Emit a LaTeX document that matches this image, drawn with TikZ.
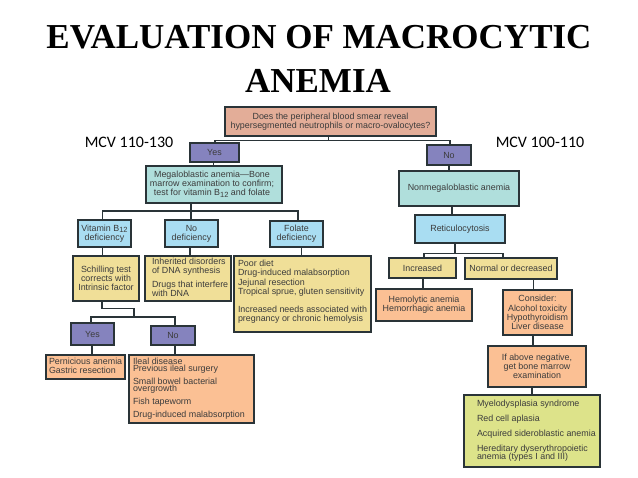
\documentclass[tikz,border=0pt]{standalone}
\usepackage{fontspec}
\setmainfont{Liberation Sans}
\newfontfamily\titlefont{Liberation Serif}
\newfontfamily\notefont{Carlito}
\definecolor{cline}{HTML}{2A3438}
\definecolor{ctext}{HTML}{3C3C3C}
\definecolor{csalmon}{HTML}{E3AD98}
\definecolor{cpurple}{HTML}{8583BE}
\definecolor{cteal}{HTML}{B0DFDC}
\definecolor{cblue}{HTML}{A9DDF2}
\definecolor{cyellow}{HTML}{F0DF98}
\definecolor{corange}{HTML}{FBC094}
\definecolor{cgreen}{HTML}{DDE38A}
\newcommand{\subnum}[1]{\raisebox{-1.8pt}{\fontsize{7.5}{8}\selectfont #1}}
\newcommand{\nbx}[7][]{%
  \pgfmathsetmacro\bw{#5-#3}\pgfmathsetmacro\bh{#6-#4}%
  \pgfmathsetmacro\cx{(#3+#5)/2}\pgfmathsetmacro\cy{(#4+#6)/2}%
  \node[boxbase,minimum width=\bw pt,minimum height=\bh pt,#1] (#2) at (\cx,\cy) {#7};}
\newcommand{\lbx}[8][]{%
  \pgfmathsetmacro\bw{#5-#3}\pgfmathsetmacro\bh{#6-#4}%
  \pgfmathsetmacro\cx{(#3+#5)/2}\pgfmathsetmacro\cy{(#4+#6)/2}%
  \pgfmathsetmacro\tw{\bw-2*#7}%
  \node[boxbase,minimum width=\bw pt,minimum height=\bh pt,#1] (#2) at (\cx,\cy)
    {\makebox[\tw pt][l]{\begin{tabular}{@{}l@{}}#8\end{tabular}}};}
\tikzset{
  boxbase/.style={draw=cline,line width=1.5pt,inner sep=0pt,align=center,text=ctext,
    font=\fontsize{8.9}{9.2}\selectfont},
  salmon/.style={fill=csalmon}, purple/.style={fill=cpurple},
  teal/.style={fill=cteal}, blue/.style={fill=cblue},
  yellow/.style={fill=cyellow}, orange/.style={fill=corange}, green/.style={fill=cgreen},
  conn/.style={draw=cline,line width=1.5pt},
  titletext/.style={font=\titlefont\bfseries\fontsize{35}{40}\selectfont,text=black,inner sep=0pt},
  note/.style={font=\notefont\fontsize{16}{18}\selectfont,text=black,inner sep=0pt}
}
\begin{document}
\begin{tikzpicture}[x=1pt,y=-1pt]
\useasboundingbox[fill=white] (0,0) rectangle (638,478);
\node[titletext] (t1) at (319,37) {EVALUATION OF MACROCYTIC};
\node[titletext] (t2) at (318,81) {ANEMIA};
\node[note] (n1) at (129,142) {MCV 110-130};
\node[note] (n2) at (540,142) {MCV 100-110};
% left branch
\nbx[salmon]{top}{225}{107}{436}{136}{Does the peripheral blood smear reveal\\hypersegmented neutrophils or macro-ovalocytes?}
\nbx[purple]{yesa}{190}{143}{239}{162}{Yes}
\lbx[teal]{mega}{146}{166}{282}{203}{3}{\makebox[126pt][c]{Megaloblastic anemia---Bone}\\\makebox[126pt][c]{marrow examination to confirm;}\\\makebox[126pt][c]{test for vitamin B\subnum{12} and folate}}
\nbx[blue]{vit}{78}{220}{131}{247}{Vitamin B\subnum{12}\\deficiency}
\nbx[blue]{nodef}{165}{220}{218}{247}{No\\deficiency}
\nbx[blue]{fol}{270}{221}{323}{247}{Folate\\deficiency}
\nbx[yellow]{schil}{73}{256}{139}{301}{Schilling test\\corrects with\\Intrinsic factor}
\lbx[yellow]{inh}{145}{256}{231}{301}{7}{Inherited disorders\\of DNA synthesis\\[4.6pt]Drugs that interfere\\with DNA}
\lbx[yellow]{poor}{234}{256}{371}{332}{4}{Poor diet\\Drug-induced malabsorption\\Jejunal resection\\Tropical sprue, gluten sensitivity\\\mbox{}\\Increased needs associated with\\pregnancy or chronic hemolysis\\[-6.2pt]\mbox{}}
\nbx[purple]{yesb}{71}{323}{114}{345}{Yes}
\nbx[purple]{nob}{151}{326}{195}{345}{No}
\lbx[orange]{pern}{46}{355}{125}{379}{3}{Pernicious anemia\\Gastric resection}
\lbx[orange]{ileal}{129}{355}{254}{423}{4}{Ileal disease\\[-2.2pt]Previous ileal surgery\\[3.8pt]Small bowel bacterial\\[-2.2pt]overgrowth\\[3.8pt]Fish tapeworm\\[3.8pt]Drug-induced malabsorption}
% right branch
\nbx[purple]{noa}{427}{145}{471}{165}{No}
\nbx[teal]{nonm}{399}{171}{519}{206}{Nonmegaloblastic anemia}
\nbx[blue]{ret}{415}{215}{505}{243}{Reticulocytosis}
\nbx[yellow]{inc}{389}{258}{456}{278}{Increased}
\nbx[yellow]{norm}{465}{258}{557}{279}{Normal or decreased}
\nbx[orange]{hem}{376}{289}{472}{321}{Hemolytic anemia\\Hemorrhagic anemia}
\nbx[orange]{cons}{503}{290}{572}{335}{Consider:\\Alcohol toxicity\\Hypothyroidism\\Liver disease}
\nbx[orange]{ifab}{488}{346}{586}{387}{If above negative,\\get bone marrow\\examination}
\lbx[green]{mye}{464}{395}{600}{467}{13}{Myelodysplasia syndrome\\[5.8pt]Red cell aplasia\\[5.8pt]Acquired sideroblastic anemia\\[5.8pt]Hereditary dyserythropoietic\\[-1.2pt]anemia (types I and III)}
% connectors
\coordinate (busa) at (0,140.5);
\draw[conn] ([xshift=-2pt]top.south) -- ([xshift=-2pt]top.south |- busa);
\draw[conn] ([xshift=0.5pt]yesa.north) -- ([xshift=0.5pt]yesa.north |- busa) -- ([xshift=1pt]noa.north |- busa) -- ([xshift=1pt]noa.north);
\draw[conn] ([xshift=-1pt]yesa.south) -- ([xshift=-1pt]yesa.south |- mega.north);
\coordinate (busb) at (0,211);
\draw[conn] ([xshift=-23pt]mega.south) -- ([xshift=-23pt]mega.south |- busb);
\draw[conn] ([xshift=-2pt]vit.north) -- ([xshift=-2pt]vit.north |- busb) -- ([xshift=1.5pt]fol.north |- busb) -- ([xshift=1.5pt]fol.north);
\draw[conn] ([xshift=-0.5pt]nodef.north) -- ([xshift=-0.5pt]nodef.north |- busb);
\draw[conn] ([xshift=-2pt]vit.south) -- ([xshift=-2pt]vit.south |- schil.north);
\draw[conn] ([xshift=-1.5pt]nodef.south) -- ([xshift=-1.5pt]nodef.south |- inh.north);
\draw[conn] ([xshift=5pt]fol.south) -- ([xshift=5pt]fol.south |- poor.north);
\coordinate (jog) at (134,308.5);
\coordinate (busc) at (134,317);
\draw[conn] ([xshift=-4pt]schil.south) |- (jog) -- (busc);
\draw[conn] ([xshift=-1.5pt]yesb.north) |- (busc) -| ([xshift=2pt]nob.north);
\draw[conn] ([xshift=-0.5pt]yesb.south) -- ([xshift=-0.5pt]yesb.south |- pern.north);
\draw[conn] ([xshift=2pt]nob.south) -- ([xshift=2pt]nob.south |- ileal.north);
\draw[conn] (noa.south) -- (noa.south |- nonm.north);
\draw[conn] ([xshift=-8pt]ret.north) -- ([xshift=-8pt]ret.north |- nonm.south);
\coordinate (busd) at (455,253.5);
\draw[conn] (busd) -- (busd |- ret.south);
\draw[conn] ([xshift=1.5pt]inc.north) |- (busd) -| ([xshift=-8pt]norm.north);
\draw[conn] ([xshift=0.5pt]inc.south) -- ([xshift=0.5pt]inc.south |- hem.north);
\draw[conn] ([xshift=-4pt]cons.north) -- ([xshift=-4pt]cons.north |- norm.south);
\draw[conn] ([xshift=-4.5pt]cons.south) -- ([xshift=-4.5pt]cons.south |- ifab.north);
\draw[conn] ([xshift=-5pt]ifab.south) -- ([xshift=-5pt]ifab.south |- mye.north);
\end{tikzpicture}
\end{document}
